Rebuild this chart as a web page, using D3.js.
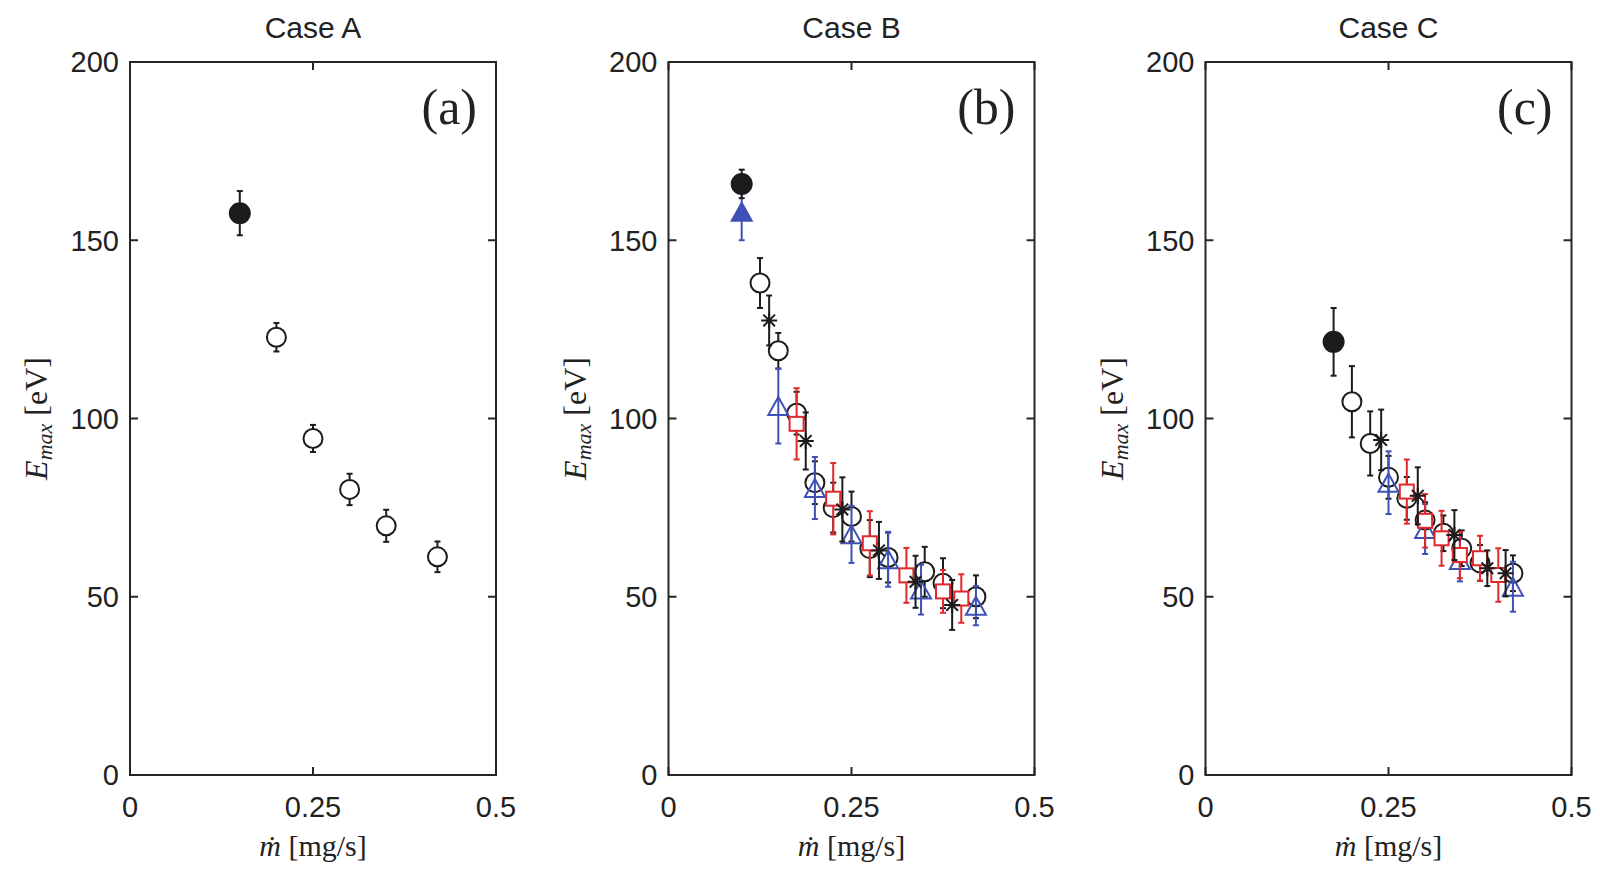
<!DOCTYPE html>
<meta charset="utf-8">
<script src="https://cdn.jsdelivr.net/npm/d3@7/dist/d3.min.js"></script>

<style>
  body {
    margin: 0;
    background-color: #ffffff;
  }
  .ticklab {
    font-family: "Liberation Sans", Arial, sans-serif;
    font-size: 29px;
    fill: #222;
  }
  .title {
    font-family: "Liberation Sans", Arial, sans-serif;
    font-size: 30px;
    fill: #222;
  }
  .serif {
    font-family: "Liberation Serif", "Times New Roman", serif;
    fill: #222;
  }
</style>

<div id="chart"></div>

<script>
// axis ticks and panel text
var xTicks = [0, 0.25, 0.5];
var yTicks = [0, 50, 100, 150, 200];
var caseNames = ["Case A", "Case B", "Case C"];
var panelTags = ["(a)", "(b)", "(c)"];

// Case A
var aFilledX = [0.15],  aFilledY = [157.6], aFilledErr = [6.2];
var aCircX = [0.2, 0.25, 0.3, 0.35, 0.42];
var aCircY = [122.8, 94.4, 80.1, 69.9, 61.2];
var aCircErr = [4, 3.8, 4.4, 4.5, 4.3];

// Case B
var bFilledX = [0.1], bFilledY = [165.8], bFilledErr = [4];
var bFTriX = [0.1], bFTriY = [158], bFTriErr = [8];
var bCircX = [0.125, 0.15, 0.175, 0.2, 0.225, 0.25, 0.275, 0.3, 0.35, 0.375, 0.42];
var bCircY = [138, 119, 101.5, 82, 75, 72.5, 63.5, 61, 57, 53.8, 50];
var bCircErr = [7, 5, 6, 6, 7, 7, 8, 7, 7, 7, 6];
var bTriX = [0.15, 0.2, 0.25, 0.3, 0.345, 0.42];
var bTriY = [103.5, 80.5, 67.5, 60.5, 52, 47.5];
var bTriErr = [10.5, 8.7, 8, 7.7, 7, 5.5];
var bSqX = [0.175, 0.225, 0.275, 0.325, 0.375, 0.4];
var bSqY = [98.5, 77.5, 65, 56, 51.5, 49.5];
var bSqErr = [10, 10, 9, 7.7, 6, 6.8];
var bStarX = [0.1375, 0.1875, 0.2375, 0.2875, 0.3375, 0.3875];
var bStarY = [127.5, 93.7, 74.5, 63, 54.2, 47.7];
var bStarErr = [7, 8, 9, 8, 7.3, 7];

// Case C
var cFilledX = [0.175], cFilledY = [121.5], cFilledErr = [9.5];
var cCircX = [0.2, 0.225, 0.25, 0.275, 0.3, 0.325, 0.35, 0.375, 0.42];
var cCircY = [104.7, 93, 83.5, 77.6, 71.5, 67.8, 63.6, 59.5, 56.6];
var cCircErr = [10, 9, 6, 6, 5, 5, 5, 5, 5];
var cTriX = [0.25, 0.3, 0.3475, 0.42];
var cTriY = [82, 69, 60.3, 52.8];
var cTriErr = [8.8, 7, 6, 7];
var cSqX = [0.275, 0.3, 0.3225, 0.3475, 0.375, 0.4];
var cSqY = [79.5, 71.3, 66.4, 61.7, 60.8, 56.1];
var cSqErr = [9, 7.5, 7.7, 6.5, 6.3, 7.5];
var cStarX = [0.24, 0.29, 0.34, 0.385, 0.41];
var cStarY = [94, 78.3, 67.3, 58, 56.6];
var cStarErr = [8.5, 8, 7, 5, 6.5];

var black = "#1c1c1c", blue = "#3f51b5", red = "#e2282a";

function S(x, y, e, type, color) {
  return {pts: x.map(function(d, i) { return {x: d, y: y[i], e: e[i]}; }), type: type, color: color};
}

var panels = [
  [S(aCircX, aCircY, aCircErr, "circ", black), S(aFilledX, aFilledY, aFilledErr, "fcirc", black)],
  [S(bCircX, bCircY, bCircErr, "circ", black), S(bTriX, bTriY, bTriErr, "tri", blue),
   S(bSqX, bSqY, bSqErr, "sq", red), S(bStarX, bStarY, bStarErr, "star", black),
   S(bFTriX, bFTriY, bFTriErr, "ftri", blue), S(bFilledX, bFilledY, bFilledErr, "fcirc", black)],
  [S(cCircX, cCircY, cCircErr, "circ", black), S(cTriX, cTriY, cTriErr, "tri", blue),
   S(cSqX, cSqY, cSqErr, "sq", red), S(cStarX, cStarY, cStarErr, "star", black),
   S(cFilledX, cFilledY, cFilledErr, "fcirc", black)]
];

var panelLeft = [130, 668.5, 1205.5],
    panelW = 366,
    plotTop = 62, plotBottom = 775;

var svg = d3.select("#chart").append("svg")
    .attr("width", 1600)
    .attr("height", 878);

panels.forEach(function(series, p) {
  var left = panelLeft[p], right = left + panelW;
  var x = d3.scaleLinear().domain([0, 0.5]).range([left, right]);
  var y = d3.scaleLinear().domain([0, 200]).range([plotBottom, plotTop]);
  var g = svg.append("g");

  // box
  g.append("rect")
    .attr("x", left).attr("y", plotTop)
    .attr("width", panelW).attr("height", plotBottom - plotTop)
    .attr("fill", "none").attr("stroke", "#262626").attr("stroke-width", 2);

  // ticks, inward on all four sides
  yTicks.forEach(function(t) {
    g.append("line").attr("x1", left).attr("x2", left + 8).attr("y1", y(t)).attr("y2", y(t))
      .attr("stroke", "#262626").attr("stroke-width", 2);
    g.append("line").attr("x1", right).attr("x2", right - 8).attr("y1", y(t)).attr("y2", y(t))
      .attr("stroke", "#262626").attr("stroke-width", 2);
    g.append("text").attr("class", "ticklab")
      .attr("x", left - 11).attr("y", y(t)).attr("dy", "0.36em")
      .attr("text-anchor", "end").text(t);
  });
  xTicks.forEach(function(t) {
    g.append("line").attr("x1", x(t)).attr("x2", x(t)).attr("y1", plotBottom).attr("y2", plotBottom - 8)
      .attr("stroke", "#262626").attr("stroke-width", 2);
    g.append("line").attr("x1", x(t)).attr("x2", x(t)).attr("y1", plotTop).attr("y2", plotTop + 8)
      .attr("stroke", "#262626").attr("stroke-width", 2);
    g.append("text").attr("class", "ticklab")
      .attr("x", x(t)).attr("y", 817)
      .attr("text-anchor", "middle").text(t);
  });

  // titles and labels
  g.append("text").attr("class", "title")
    .attr("x", (left + right) / 2).attr("y", 38)
    .attr("text-anchor", "middle").text(caseNames[p]);

  g.append("text").attr("class", "serif")
    .attr("x", right - 19).attr("y", 124)
    .attr("text-anchor", "end").attr("font-size", 50)
    .text(panelTags[p]);

  var xl = g.append("text").attr("class", "serif")
    .attr("x", (left + right) / 2).attr("y", 856)
    .attr("text-anchor", "middle").attr("font-size", 30);
  xl.append("tspan").attr("font-style", "italic").text("\u1E41");
  xl.append("tspan").text(" [mg/s]");

  var yl = g.append("text").attr("class", "serif")
    .attr("transform", "translate(" + (left - 83) + "," + ((plotTop + plotBottom) / 2) + ") rotate(-90)")
    .attr("text-anchor", "middle").attr("font-size", 32);
  yl.append("tspan").attr("font-style", "italic").text("E");
  yl.append("tspan").attr("font-style", "italic").attr("font-size", 22).attr("dy", 5).text("max");
  yl.append("tspan").attr("dy", -5).text(" [eV]");

  // data series: error bar then marker
  series.forEach(function(s) {
    var sg = g.append("g");
    var pts = sg.selectAll("g").data(s.pts).enter().append("g");

    pts.append("line")
      .attr("x1", function(d) { return x(d.x); }).attr("x2", function(d) { return x(d.x); })
      .attr("y1", function(d) { return y(d.y - d.e); }).attr("y2", function(d) { return y(d.y + d.e); })
      .attr("stroke", s.color).attr("stroke-width", 2);
    [-1, 1].forEach(function(sgn) {
      pts.append("line")
        .attr("x1", function(d) { return x(d.x) - 3; }).attr("x2", function(d) { return x(d.x) + 3; })
        .attr("y1", function(d) { return y(d.y + sgn * d.e); }).attr("y2", function(d) { return y(d.y + sgn * d.e); })
        .attr("stroke", s.color).attr("stroke-width", 2);
    });

    if (s.type === "circ" || s.type === "fcirc") {
      pts.append("circle")
        .attr("cx", function(d) { return x(d.x); })
        .attr("cy", function(d) { return y(d.y); })
        .attr("r", s.type === "fcirc" ? 10 : 9.5)
        .attr("fill", s.type === "fcirc" ? s.color : "#fff")
        .attr("stroke", s.color).attr("stroke-width", 2);
    } else if (s.type === "tri" || s.type === "ftri") {
      pts.append("path")
        .attr("d", function(d) {
          var cx = x(d.x), cy = y(d.y);
          return "M" + cx + "," + (cy - 9) + "L" + (cx + 10) + "," + (cy + 9) + "L" + (cx - 10) + "," + (cy + 9) + "Z";
        })
        .attr("fill", s.type === "ftri" ? s.color : "none")
        .attr("stroke", s.color).attr("stroke-width", 2).attr("stroke-linejoin", "miter");
    } else if (s.type === "sq") {
      pts.append("rect")
        .attr("x", function(d) { return x(d.x) - 7; })
        .attr("y", function(d) { return y(d.y) - 7; })
        .attr("width", 14).attr("height", 14)
        .attr("fill", "#fff")
        .attr("stroke", s.color).attr("stroke-width", 2);
    } else if (s.type === "star") {
      pts.append("path")
        .attr("d", function(d) {
          var cx = x(d.x), cy = y(d.y), r = 8, q = 5.8;
          return "M" + (cx - r) + "," + cy + "L" + (cx + r) + "," + cy +
                 "M" + cx + "," + (cy - r) + "L" + cx + "," + (cy + r) +
                 "M" + (cx - q) + "," + (cy - q) + "L" + (cx + q) + "," + (cy + q) +
                 "M" + (cx - q) + "," + (cy + q) + "L" + (cx + q) + "," + (cy - q);
        })
        .attr("fill", "none")
        .attr("stroke", s.color).attr("stroke-width", 2);
    }
  });
});
</script>
